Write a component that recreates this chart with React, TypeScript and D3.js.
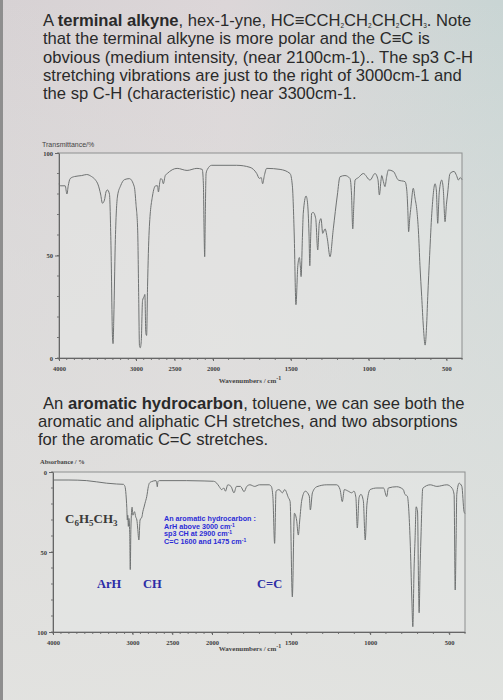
import React from "react";
import { select, scaleLinear, line, curveMonotoneX, axisBottom, axisLeft, range } from "d3";

// hex-1-yne, transmittance %
const hexyneWavenumbers = [
  4000, 3980, 3920, 3897, 3880, 3855, 3800, 3705, 3640, 3577, 3530, 3491, 3460, 3436, 3410, 3390, 3372,
  3345, 3325, 3305, 3298, 3288, 3270, 3240, 3200, 3150, 3086, 3022, 3000, 2978, 2965, 2955, 2945, 2932,
  2915, 2895, 2885, 2872, 2862, 2850, 2829, 2786, 2744, 2720, 2709, 2690, 2679, 2660, 2645, 2620, 2594,
  2466, 2337, 2209, 2140, 2125, 2115, 2108, 2100, 2090, 2073, 2017, 1848, 1762, 1719, 1702, 1690, 1681,
  1670, 1655, 1569, 1505, 1490, 1478, 1467, 1455, 1445, 1439, 1434, 1425, 1420, 1402, 1393, 1383, 1378,
  1372, 1366, 1356, 1340, 1327, 1317, 1306, 1295, 1280, 1265, 1248, 1227, 1201, 1184, 1152, 1120, 1110,
  1102, 1095, 1087, 1066, 1034, 991, 959, 940, 931, 920, 916, 905, 895, 885, 873, 841, 809, 766, 755,
  748, 743, 736, 728, 713, 702, 690, 680, 670, 659, 648, 637, 628, 620, 608, 594, 573, 565, 556, 550,
  546, 530, 520, 509, 500, 494, 477, 451, 435, 423, 412, 400,
];
const hexyneTransmittance = [
  85, 84, 84, 80, 84, 87.5, 88.5, 89, 89.5, 88.5, 87, 84.4, 80, 75.5, 77, 81, 82,
  80, 55, 10, 7, 20, 55, 79, 84, 87, 87.5, 83.5, 75, 62, 30, 6, 5, 8,
  28, 30, 31, 12, 11, 35, 62, 79, 84, 84, 81, 86, 87.5, 87, 85, 89, 90,
  92.5, 91.5, 92.5, 92, 85, 60, 49.4, 70, 90, 92, 94, 94, 93, 90, 87.6, 88, 85,
  89, 92.5, 92, 90, 84, 60, 26, 45, 49, 45, 39.7, 60, 70.6, 79, 76, 60, 45,
  60, 70.6, 71, 68, 52.7, 65.7, 68, 60.8, 63, 58, 49.4, 63, 79.5, 88.4, 89, 87.6, 80,
  63, 75, 86.8, 88, 90, 86.8, 90, 87, 79.5, 87, 89, 86, 83.6, 88, 91.7, 91, 86.8, 86, 82,
  72, 61.6, 68, 73.8, 82.8, 78, 72, 62, 45, 30, 15, 6.3, 15, 30, 50, 70.6, 85, 82, 65.7, 75,
  81, 86.8, 82, 66.5, 75, 79, 90, 91, 89, 86.8, 88, 87,
];

// toluene, "absorbance" % (0 at top)
const tolueneWavenumbers = [
  4000, 3800, 3576, 3325, 3200, 3116, 3095, 3082, 3072, 3065, 3060, 3052, 3045, 3035, 3028, 3020, 3005,
  2995, 2975, 2960, 2945, 2935, 2920, 2905, 2881, 2870, 2855, 2843, 2821, 2800, 2788, 2760, 2704, 2695,
  2688, 2680, 2663, 2318, 2100, 1990, 1970, 1955, 1939, 1925, 1915, 1900, 1880, 1861, 1845, 1820, 1797,
  1780, 1760, 1730, 1700, 1640, 1625, 1615, 1604, 1595, 1576, 1555, 1540, 1517, 1506, 1492, 1479, 1465,
  1454, 1445, 1432, 1410, 1385, 1378, 1365, 1337, 1274, 1211, 1190, 1176, 1163, 1138, 1117, 1102, 1090,
  1081, 1070, 1058, 1043, 1031, 1020, 1000, 957, 915, 895, 885, 832, 790, 780, 765, 747, 736, 730, 722,
  716, 709, 700, 694, 690, 684, 679, 667, 620, 578, 515, 483, 469, 462, 456, 452, 437, 420, 406, 400,
];
const tolueneAbsorbance = [
  5, 5, 5.4, 7, 7.5, 7.7, 9, 14, 22, 30, 27, 34, 29, 38, 61, 35, 22,
  27, 24.8, 28, 30, 35, 42.5, 30, 28, 24.8, 22, 19.6, 15.4, 9, 7, 6, 5.4, 7,
  9.2, 6, 5.4, 5.4, 5.6, 5.8, 7, 9, 11, 10, 12, 8, 9, 13, 9, 9, 12.3,
  9, 8, 9, 8, 8, 9, 15.4, 44.6, 12, 11, 13, 11, 16, 18.5, 78, 25.8, 30,
  39.4, 30, 17.5, 12, 15, 23.75, 13, 9.2, 8, 8, 11, 18.5, 11, 12, 13, 12, 16,
  35, 16, 14, 18, 42.5, 20, 11, 10, 10, 15.4, 10, 9.2, 11, 14, 15, 42.5, 80, 96.7, 60,
  42.5, 21.7, 25, 70, 88, 60, 42.5, 10.2, 8, 9, 8, 10, 14, 73.75, 40, 14, 7, 9, 24.8, 26,
];

const xTickValues = [4000, 3000, 2500, 2000, 1500, 1000, 500];
const yTickValues = [0, 50, 100];

interface Frame {
  left: number;
  mid: number;
  right: number;
  top: number;
  bottom: number;
  yDomain: [number, number];
}

const hexyneFrame: Frame = { left: 59, mid: 213, right: 462, top: 153, bottom: 358, yDomain: [0, 100] };
const tolueneFrame: Frame = { left: 53, mid: 212, right: 465, top: 472, bottom: 632, yDomain: [100, 0] };

const drawSpectrum = (g: any, wn: number[], vals: number[], f: Frame) => {
  const x = scaleLinear().domain([4000, 2000, 400]).range([f.left, f.mid, f.right]);
  const y = scaleLinear().domain(f.yDomain).range([f.bottom, f.top]);

  g.append("rect")
    .attr("x", f.left)
    .attr("y", f.top)
    .attr("width", f.right - f.left)
    .attr("height", f.bottom - f.top)
    .attr("fill", "#e6e8e6")
    .attr("fill-opacity", 0.55)
    .attr("stroke", "#8d8f8f")
    .attr("stroke-width", 1);

  const pts = wn.map((w, i) => [x(w), y(vals[i])] as [number, number]);
  g.append("path")
    .attr("d", line().curve(curveMonotoneX)(pts))
    .attr("fill", "none")
    .attr("stroke", "#6f7272")
    .attr("stroke-width", 1);

  // minor ticks every 100 cm-1
  g.append("g")
    .selectAll("line")
    .data(range(400, 4001, 100))
    .join("line")
    .attr("x1", (d: number) => x(d))
    .attr("x2", (d: number) => x(d))
    .attr("y1", f.bottom)
    .attr("y2", f.bottom + 2)
    .attr("stroke", "#777");

  const yMinor = range(0, 101, 10);
  g.append("g")
    .selectAll("line")
    .data(yMinor)
    .join("line")
    .attr("x1", f.left - 2)
    .attr("x2", f.left)
    .attr("y1", (d: number) => y(d))
    .attr("y2", (d: number) => y(d))
    .attr("stroke", "#777");

  const xa = g
    .append("g")
    .attr("transform", `translate(0,${f.bottom})`)
    .call(axisBottom(x).tickValues(xTickValues).tickSize(3).tickSizeOuter(0).tickPadding(5).tickFormat((d: any) => `${d}`));
  const ya = g
    .append("g")
    .attr("transform", `translate(${f.left},0)`)
    .call(axisLeft(y).tickValues(yTickValues).tickSize(4).tickSizeOuter(0).tickPadding(2));

  [xa, ya].forEach((a) => {
    a.select(".domain").attr("stroke", "#666");
    a.selectAll(".tick line").attr("stroke", "#666");
    a.selectAll("text")
      .attr("fill", "#3c3c3c")
      .attr("font-family", "'Liberation Serif', serif")
      .attr("font-weight", "bold")
      .attr("font-size", 6.5);
  });
};

const bodyFont = "'Liberation Sans', Arial, sans-serif";
const serif = "'Liberation Serif', 'Times New Roman', serif";

export default function App() {
  const chartRef = React.useRef<SVGGElement>(null);

  React.useEffect(() => {
    const g = select(chartRef.current);
    drawSpectrum(g.append("g"), hexyneWavenumbers, hexyneTransmittance, hexyneFrame);
    drawSpectrum(g.append("g"), tolueneWavenumbers, tolueneAbsorbance, tolueneFrame);
    return () => {
      g.selectAll("*").remove();
    };
  }, []);

  return (
    <svg width={503} height={700} style={{ position: "absolute", left: 0, top: 0 }}>
      <defs>
        <linearGradient id="bgH" x1="0" x2="1" y1="0" y2="0">
          <stop offset="0" stopColor="#d7d2d4" />
          <stop offset="0.45" stopColor="#dcd6d8" />
          <stop offset="1" stopColor="#c9d5d4" />
        </linearGradient>
        <linearGradient id="bgV" x1="0" x2="0" y1="0" y2="1">
          <stop offset="0" stopColor="#e2e3e0" stopOpacity="0" />
          <stop offset="0.35" stopColor="#e0e1df" stopOpacity="0.5" />
          <stop offset="1" stopColor="#e3e4e1" stopOpacity="0.9" />
        </linearGradient>
      </defs>
      <rect width={503} height={700} fill="url(#bgH)" />
      <rect width={503} height={700} fill="url(#bgV)" />
      <rect width={3} height={700} fill="#8e8e8e" />

      <g fontFamily={bodyFont} fontSize={16.6} fill="#2a2a2a">
        <text x={43} y={26}>
          A <tspan fontWeight="bold">terminal alkyne</tspan>, hex-1-yne, HC≡CCH
          <tspan fontSize={6.5} dy={2}>2</tspan><tspan dy={-2}>CH</tspan>
          <tspan fontSize={6.5} dy={2}>2</tspan><tspan dy={-2}>CH</tspan>
          <tspan fontSize={6.5} dy={2}>2</tspan><tspan dy={-2}>CH</tspan>
          <tspan fontSize={6.5} dy={2}>3</tspan><tspan dy={-2}>. Note</tspan>
        </text>
        <text x={43} y={44}>that the terminal alkyne is more polar and the C≡C is</text>
        <text x={43} y={63}>obvious (medium intensity, (near 2100cm-1).. The sp3 C-H</text>
        <text x={43} y={81}>stretching vibrations are just to the right of 3000cm-1 and</text>
        <text x={43} y={99}>the sp C-H (characteristic) near 3300cm-1.</text>

        <text x={43} y={409}>
          An <tspan fontWeight="bold">aromatic hydrocarbon</tspan>, toluene, we can see both the
        </text>
        <text x={38} y={427}>aromatic and aliphatic CH stretches, and two absorptions</text>
        <text x={38} y={445}>for the aromatic C=C stretches.</text>
      </g>

      <g ref={chartRef} />

      {/* hex-1-yne axis titles */}
      <text x={42} y={147} fontFamily={bodyFont} fontSize={7} fill="#444">Transmittance/%</text>
      <text x={250} y={383} textAnchor="middle" fontFamily={serif} fontWeight="bold" fontSize={7} fill="#444">
        Wavenumbers / cm<tspan dy={-3} fontSize={6}>-1</tspan>
      </text>

      {/* toluene axis titles */}
      <text x={40} y={464} fontFamily={serif} fontWeight="bold" fontSize={6.5} fill="#444">Absorbance / %</text>
      <text x={250} y={651} textAnchor="middle" fontFamily={serif} fontWeight="bold" fontSize={7} fill="#444">
        Wavenumbers / cm<tspan dy={-3} fontSize={6}>-1</tspan>
      </text>

      {/* toluene annotations */}
      <text x={65} y={523} fontFamily={serif} fontWeight="bold" fontSize={13} fill="#3a3a3a">
        C<tspan fontSize={9} dy={3}>6</tspan><tspan dy={-3}>H</tspan><tspan fontSize={9} dy={3}>5</tspan>
        <tspan dy={-3}>CH</tspan><tspan fontSize={9} dy={3}>3</tspan>
      </text>
      <g fontFamily={bodyFont} fontWeight="bold" fontSize={7.2} fill="#2b2bd6">
        <text x={164} y={521}>An aromatic hydrocarbon :</text>
        <text x={164} y={528.6}>ArH above 3000 cm<tspan dy={-1.8} fontSize={5}>-1</tspan></text>
        <text x={164} y={536.2}>sp3 CH at 2900 cm<tspan dy={-1.8} fontSize={5}>-1</tspan></text>
        <text x={164} y={543.8}>C=C 1600 and 1475 cm<tspan dy={-1.8} fontSize={5}>-1</tspan></text>
      </g>
      <g fontFamily={serif} fontWeight="bold" fontSize={12.5} fill="#2c2ca6">
        <text x={97} y={588}>ArH</text>
        <text x={143} y={588}>CH</text>
        <text x={257} y={588}>C=C</text>
      </g>
    </svg>
  );
}
